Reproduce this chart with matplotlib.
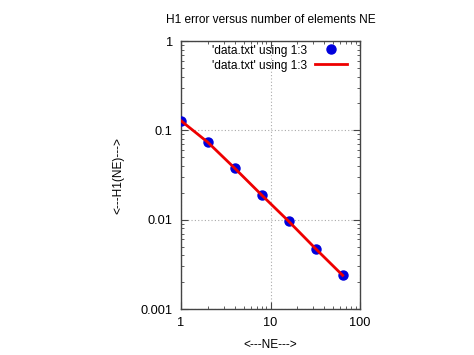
import matplotlib
matplotlib.use("Agg")
import matplotlib.pyplot as plt
from matplotlib.ticker import LogLocator, FixedLocator, FixedFormatter, NullFormatter

plt.rcParams['font.family'] = ['Liberation Sans', 'DejaVu Sans']

ne = [1, 2, 4, 8, 16, 32, 64]
h1 = [0.128, 0.0733, 0.0375, 0.0188, 0.00957, 0.00472, 0.00238]
title = "H1 error versus number of elements NE"
xlabel = "<---NE--->"
ylabel = "<---H1(NE)--->"
label = "'data.txt' using 1:3"
xticks = [1, 10, 100]
xticklabels = ["1", "10", "100"]
yticks = [0.001, 0.01, 0.1, 1]
yticklabels = ["0.001", "0.01", "0.1", "1"]

fs = 8.6
fig = plt.figure(figsize=(4.74, 3.55), dpi=100)
ax = fig.add_axes([181/474, 46/355, 179/474, 268/355])

ax.plot(ne, h1, 'o', color='#0000dd', markersize=6.5, label=label, zorder=3)
ax.plot(ne, h1, '-', color='#ee0000', linewidth=2, label=label, zorder=4)

ax.set_xscale('log')
ax.set_yscale('log')
ax.set_xlim(1, 100)
ax.set_ylim(0.001, 1)

ax.xaxis.set_major_locator(FixedLocator(xticks))
ax.xaxis.set_major_formatter(FixedFormatter(xticklabels))
ax.yaxis.set_major_locator(FixedLocator(yticks))
ax.yaxis.set_major_formatter(FixedFormatter(yticklabels))
ax.xaxis.set_minor_locator(LogLocator(base=10, subs=range(2, 10)))
ax.yaxis.set_minor_locator(LogLocator(base=10, subs=range(2, 10)))
ax.xaxis.set_minor_formatter(NullFormatter())
ax.yaxis.set_minor_formatter(NullFormatter())

ax.tick_params(which='both', direction='in', top=True, right=True, labelsize=fs + 0.6, pad=6, color='#444444')
ax.tick_params(which='major', length=5)
ax.tick_params(which='minor', length=2.5)
ax.grid(True, which='major', linestyle=(0, (1, 2)), color='#aaaaaa', linewidth=0.8)
for s in ax.spines.values():
    s.set_color('#444444')
    s.set_linewidth(1)

ax.set_title(title, fontsize=fs, pad=13)
ax.set_xlabel(xlabel, fontsize=fs, labelpad=7)
ax.set_ylabel(ylabel, fontsize=fs, labelpad=12)

leg = ax.legend(loc='upper right', markerfirst=False, frameon=False, fontsize=fs,
                handlelength=2.7, borderaxespad=0.0, labelspacing=0.25, handletextpad=0.7,
                borderpad=0.3, bbox_to_anchor=(0.95, 1.0))

fig.savefig('out.png', dpi=100)
